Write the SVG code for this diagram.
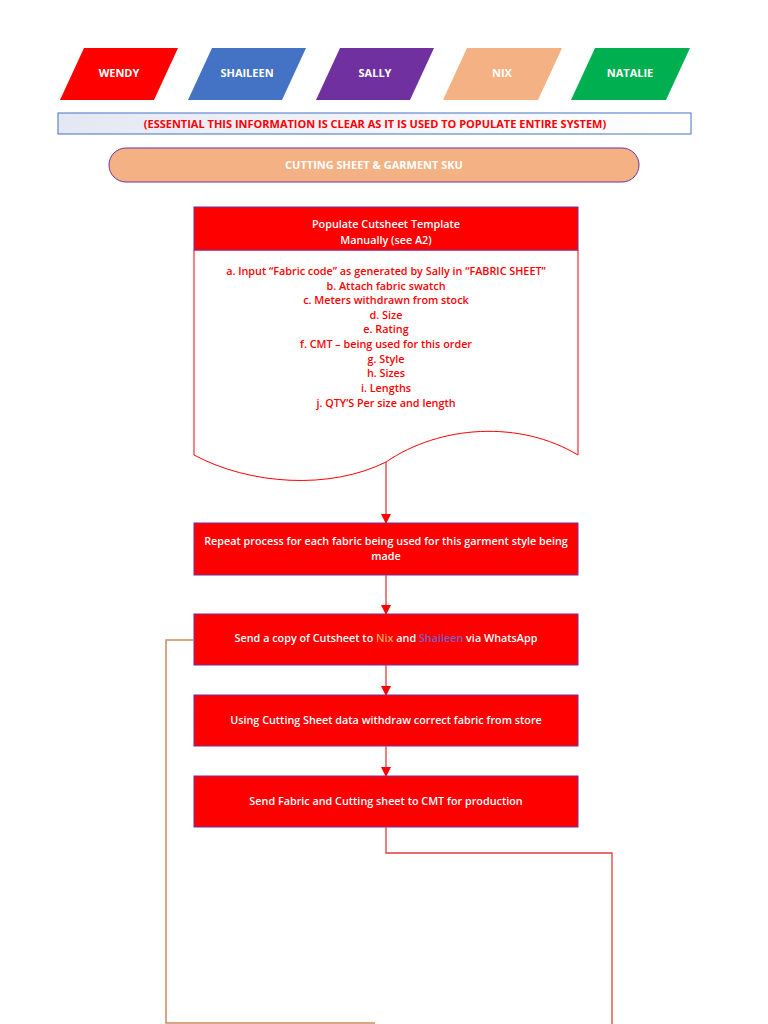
<svg xmlns="http://www.w3.org/2000/svg" width="768" height="1024" viewBox="0 0 768 1024">
<defs>
<style>
.t{font-family:"Open Sans","Liberation Sans",sans-serif;text-anchor:middle}
.w{fill:#fff;font-size:10.8px;font-weight:600}
.pt{fill:#fff;font-size:11px;font-weight:bold}
.r{fill:#ff0000;font-size:10.8px;font-weight:600}
.box{fill:#ff0000;stroke:#7030a0;stroke-width:1}
.con{fill:none;stroke:#e8383d;stroke-width:1.3}
</style>
<marker id="ah" markerWidth="10" markerHeight="10" refX="9" refY="5" orient="auto" markerUnits="userSpaceOnUse">
<path d="M0,0 L10,5 L0,10 Z" fill="#ff0000"/>
</marker>
<linearGradient id="ig" x1="0" y1="0" x2="1" y2="0">
<stop offset="0" stop-color="#e4e8f2"/><stop offset="1" stop-color="#ffffff"/>
</linearGradient>
</defs>
<rect width="768" height="1024" fill="#fff"/>

<g id="wendy"><polygon points="84,48 178,48 154,100 60,100" fill="#ff0000"/><text class="t pt" x="119" y="77">WENDY</text></g>
<g id="shaileen"><polygon points="212,48 306,48 282,100 188,100" fill="#4472c4"/><text class="t pt" x="247" y="77">SHAILEEN</text></g>
<g id="sally"><polygon points="340,48 434,48 410,100 316,100" fill="#7030a0"/><text class="t pt" x="375" y="77">SALLY</text></g>
<g id="nix"><polygon points="467,48 562,48 538,100 443,100" fill="#f4b183"/><text class="t pt" x="502" y="77">NIX</text></g>
<g id="natalie"><polygon points="595,48 690,48 666,100 571,100" fill="#00b050"/><text class="t pt" x="630" y="77">NATALIE</text></g>

<g id="info"><rect x="58" y="113" width="633" height="21" fill="url(#ig)" stroke="#4472c4" stroke-width="1"/>
<text class="t" x="375" y="128" fill="#ff0000" font-size="11" font-weight="bold">(ESSENTIAL THIS INFORMATION IS CLEAR AS IT IS USED TO POPULATE ENTIRE SYSTEM)</text></g>

<g id="title"><rect x="109" y="148" width="530" height="34" rx="17" fill="#f4b183" stroke="#7030a0" stroke-width="1"/>
<text class="t pt" x="374" y="169">CUTTING SHEET &amp; GARMENT SKU</text></g>

<g id="doc">
<path d="M194,250 L578,250 L578,455 C520,420 440,425 386,462 C330,490 250,485 194,455 Z" fill="#fff" stroke="#ff0000" stroke-width="1"/>
<rect x="194" y="207" width="384" height="43" class="box" stroke="#ff0000"/>
<text class="t w" x="386" y="228">Populate Cutsheet Template</text>
<text class="t w" x="386" y="244">Manually (see A2)</text>
<text class="t r" x="386" y="275">a. Input “Fabric code” as generated by Sally in “FABRIC SHEET”</text>
<text class="t r" x="386" y="290">b. Attach fabric swatch</text>
<text class="t r" x="386" y="304">c. Meters withdrawn from stock</text>
<text class="t r" x="386" y="319">d. Size</text>
<text class="t r" x="386" y="333">e. Rating</text>
<text class="t r" x="386" y="348">f. CMT – being used for this order</text>
<text class="t r" x="386" y="363">g. Style</text>
<text class="t r" x="386" y="377">h. Sizes</text>
<text class="t r" x="386" y="392">i. Lengths</text>
<text class="t r" x="386" y="407">j. QTY’S Per size and length</text>
</g>

<g id="repeat"><rect x="194" y="523" width="384" height="52" class="box"/>
<text class="t w" x="386" y="545">Repeat process for each fabric being used for this garment style being</text>
<text class="t w" x="386" y="560">made</text></g>

<g id="send"><rect x="194" y="614" width="384" height="51" class="box"/>
<text class="t w" x="386" y="642">Send a copy of Cutsheet to <tspan fill="#f4a460">Nix</tspan> and <tspan fill="#7a5fc0">Shaileen</tspan> via WhatsApp</text></g>

<g id="withdraw"><rect x="194" y="695" width="384" height="51" class="box"/>
<text class="t w" x="386" y="724">Using Cutting Sheet data withdraw correct fabric from store</text></g>

<g id="cmt"><rect x="194" y="776" width="384" height="51" class="box"/>
<text class="t w" x="386" y="805">Send Fabric and Cutting sheet to CMT for production</text></g>

<g id="connectors">
<line x1="386" y1="462" x2="386" y2="523" class="con" marker-end="url(#ah)"/>
<line x1="386" y1="575" x2="386" y2="614" class="con" marker-end="url(#ah)"/>
<line x1="386" y1="665" x2="386" y2="695" class="con" marker-end="url(#ah)"/>
<line x1="386" y1="746" x2="386" y2="776" class="con" marker-end="url(#ah)"/>
<polyline points="386,827 386,853 612,853 612,1024" class="con"/>
<polyline points="194,640 166,640 166,1023 375,1023" fill="none" stroke="#c98a5a" stroke-width="1.5"/>
</g>
</svg>
